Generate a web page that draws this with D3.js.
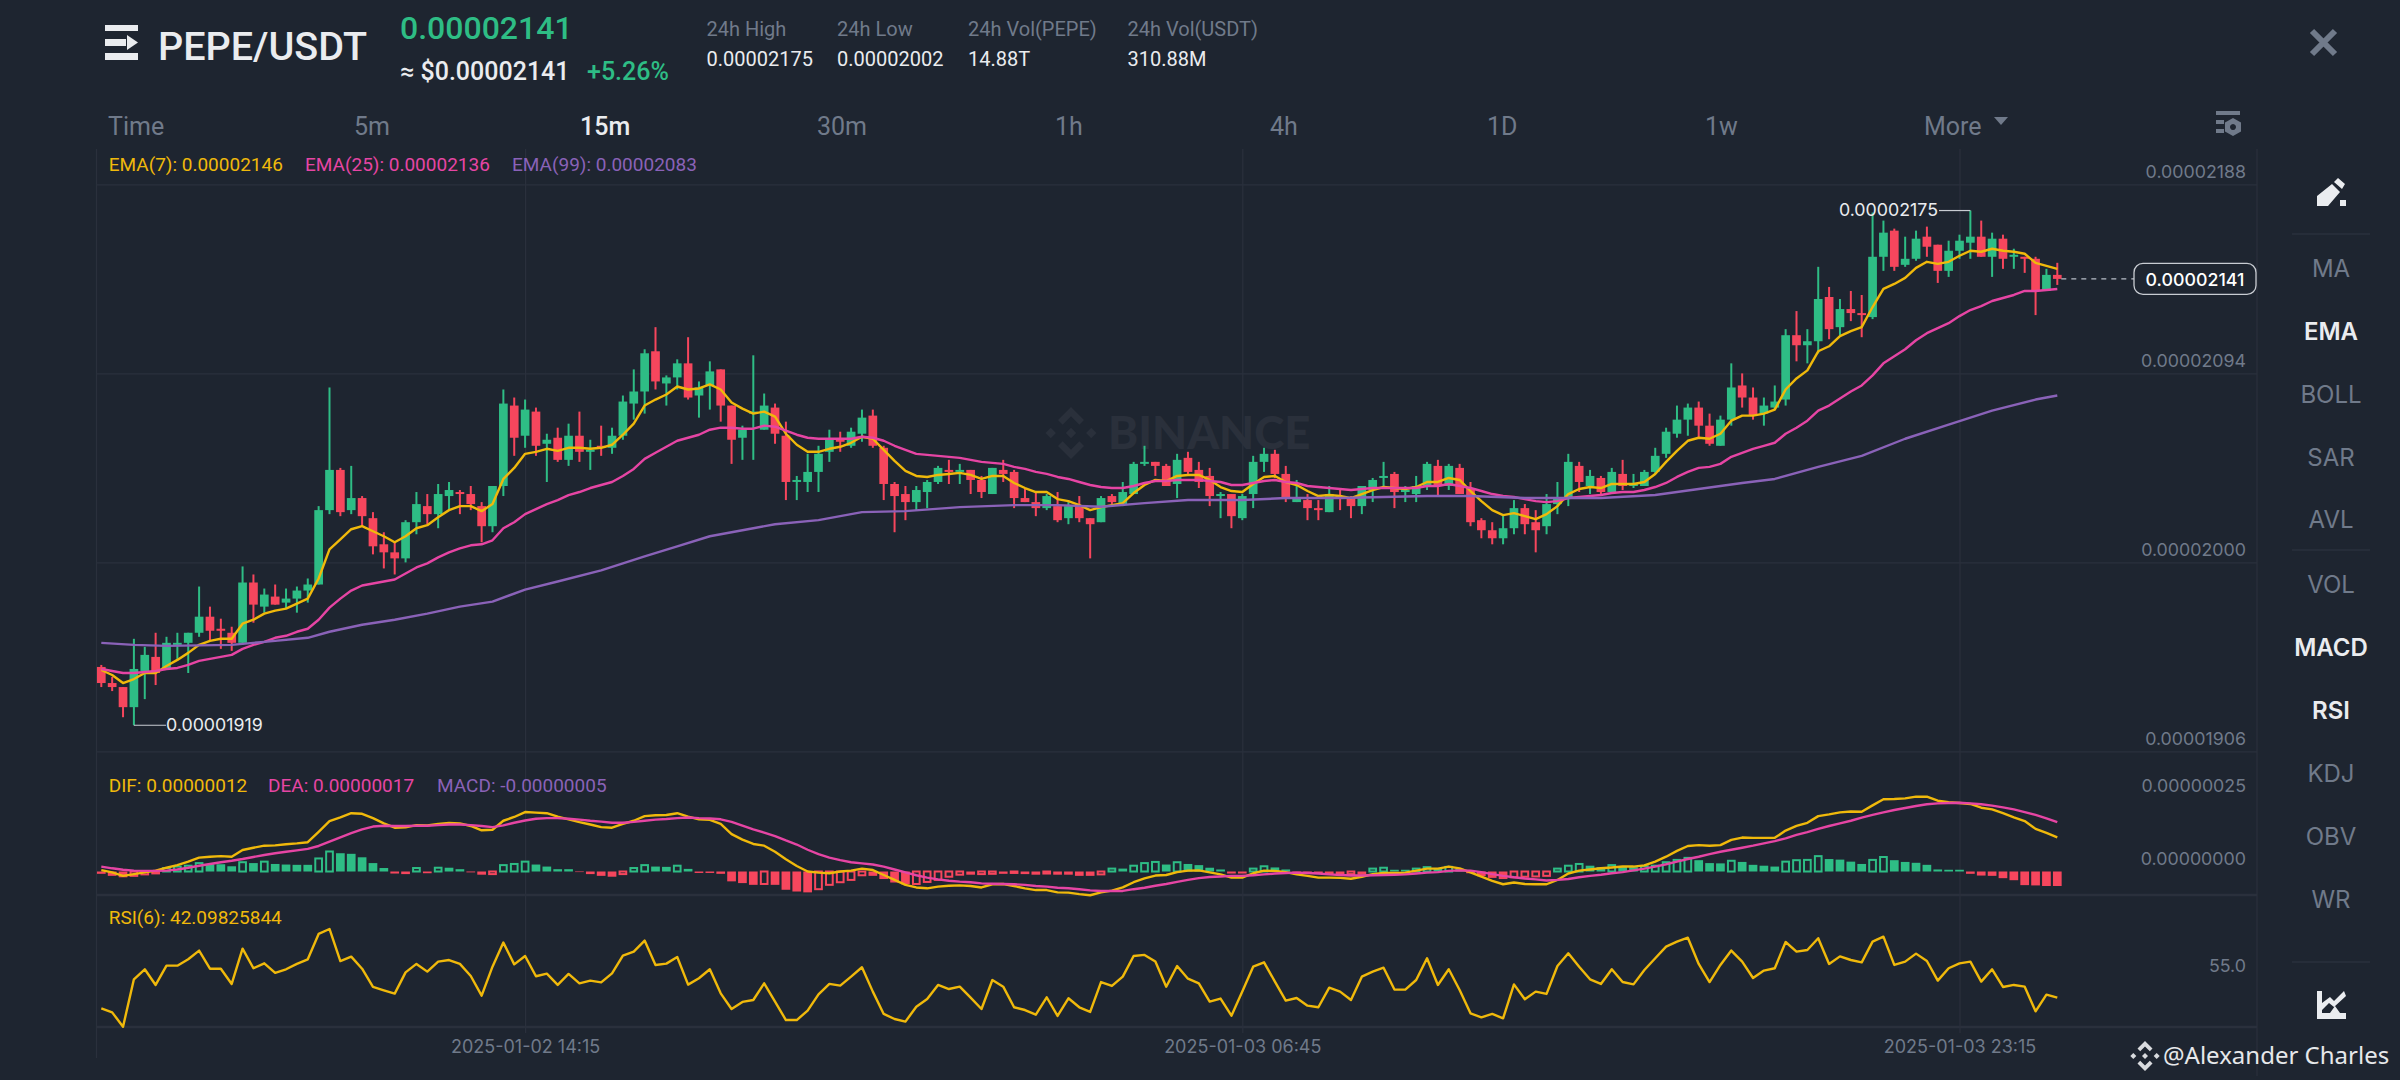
<!DOCTYPE html>
<html>
<head>
<meta charset="utf-8">
<script src="https://cdn.jsdelivr.net/npm/d3@7/dist/d3.min.js"></script>
<style>
    html, body { margin: 0; padding: 0; background: #1e2530; }
    svg { display: block; }
</style>
</head>
<body>
<script>
// All prices are in units of 0.00000001
const highs = [
    1949,1943,1938,1962,1958,1965,1963,1965,1965,1988,
    1978,1972,1968,1998,1994,1987,1989,1987,1988,1992,
    2028,2087,2047,2048,2033,2025,2015,2010,2021,2035,
    2034,2039,2040,2036,2038,2030,2038,2086,2082,2081,
    2077,2064,2067,2069,2075,2061,2068,2067,2083,2096,
    2106,2117,2093,2101,2112,2090,2100,2096,2078,2068,
    2103,2084,2079,2070,2043,2054,2058,2066,2065,2067,
    2076,2076,2058,2040,2038,2038,2041,2048,2051,2049,
    2046,2043,2047,2051,2046,2037,2035,2034,2035,2030,
    2033,2022,2033,2034,2040,2050,2058,2050,2049,2054,
    2055,2050,2047,2035,2034,2034,2053,2057,2056,2048,
    2041,2034,2031,2038,2036,2033,2038,2042,2050,2045,
    2038,2043,2050,2051,2049,2049,2040,2022,2020,2024,
    2031,2029,2026,2034,2040,2054,2050,2046,2043,2047,
    2051,2044,2046,2057,2067,2078,2079,2080,2074,2073,
    2099,2094,2087,2082,2088,2116,2125,2116,2147,2137,
    2131,2135,2133,2174,2170,2166,2162,2165,2167,2158,
    2160,2163,2175,2170,2164,2163,2156,2152,2152,2146,2149
];
const opens = [
    1948,1940,1938,1928,1946,1953,1947,1959,1960,1965,
    1973,1967,1965,1960,1990,1978,1983,1980,1982,1986,
    1989,2026,2046,2026,2032,2022,2009,2005,2002,2020,
    2028,2024,2033,2035,2034,2028,2018,2038,2078,2063,
    2075,2059,2062,2051,2063,2055,2058,2057,2063,2079,
    2085,2105,2089,2092,2099,2083,2088,2096,2078,2062,
    2074,2066,2077,2063,2040,2040,2045,2055,2061,2058,
    2064,2073,2057,2039,2034,2030,2035,2040,2046,2045,
    2046,2041,2034,2046,2045,2032,2030,2027,2028,2022,
    2028,2022,2020,2033,2029,2034,2049,2050,2048,2039,
    2052,2046,2043,2033,2034,2022,2034,2050,2054,2044,
    2030,2031,2027,2025,2033,2032,2028,2036,2042,2044,
    2035,2034,2038,2048,2038,2047,2037,2021,2016,2012,
    2017,2027,2020,2018,2029,2032,2048,2038,2042,2035,
    2044,2038,2038,2045,2054,2064,2071,2077,2068,2058,
    2071,2088,2082,2074,2077,2081,2113,2108,2110,2132,
    2117,2126,2124,2122,2152,2165,2148,2151,2162,2158,
    2145,2155,2159,2162,2152,2161,2152,2152,2151,2135,2143
];
const closes = [
    1940,1938,1928,1947,1954,1945,1960,1960,1965,1973,
    1966,1966,1960,1990,1979,1984,1979,1982,1986,1989,
    2026,2046,2025,2032,2023,2008,2005,2002,2020,2029,
    2024,2034,2036,2034,2029,2018,2038,2079,2062,2076,
    2058,2061,2051,2063,2055,2056,2057,2063,2080,2085,
    2104,2090,2092,2099,2082,2087,2095,2078,2061,2066,
    2075,2078,2064,2040,2041,2045,2054,2061,2060,2065,
    2072,2058,2039,2033,2030,2036,2040,2047,2045,2046,
    2041,2035,2047,2044,2032,2030,2027,2033,2021,2028,
    2022,2019,2032,2030,2035,2049,2050,2048,2038,2051,
    2045,2040,2033,2034,2023,2033,2050,2054,2044,2032,
    2032,2027,2026,2034,2032,2028,2038,2041,2043,2035,
    2036,2038,2049,2038,2048,2034,2020,2016,2012,2017,
    2027,2019,2016,2029,2032,2050,2040,2043,2035,2045,
    2038,2039,2045,2053,2065,2071,2077,2068,2059,2071,
    2087,2082,2073,2078,2080,2113,2108,2110,2131,2116,
    2126,2124,2123,2152,2164,2147,2151,2161,2157,2145,
    2155,2160,2162,2152,2161,2151,2153,2151,2135,2143,2141
];
const lows = [
    1938,1936,1923,1919,1932,1939,1947,1952,1945,1963,
    1961,1957,1956,1959,1970,1975,1979,1977,1975,1980,
    1989,2024,2023,2024,2018,2004,1997,1994,2000,2014,
    2019,2017,2026,2024,2026,2010,2015,2033,2053,2057,
    2053,2040,2050,2048,2050,2046,2053,2054,2061,2071,
    2074,2086,2078,2086,2081,2072,2076,2070,2049,2051,
    2051,2066,2059,2031,2031,2035,2035,2050,2055,2057,
    2060,2057,2031,2015,2021,2026,2027,2039,2039,2039,
    2034,2032,2034,2040,2027,2030,2023,2026,2020,2019,
    2020,2002,2020,2028,2028,2034,2048,2043,2038,2032,
    2044,2037,2028,2022,2017,2021,2027,2045,2042,2030,
    2030,2021,2021,2025,2026,2022,2024,2030,2037,2027,
    2030,2030,2036,2033,2036,2034,2018,2012,2009,2009,
    2014,2014,2005,2014,2024,2028,2035,2034,2034,2035,
    2036,2037,2038,2044,2052,2062,2063,2062,2058,2058,
    2068,2077,2071,2068,2076,2078,2100,2099,2104,2111,
    2113,2120,2112,2121,2145,2145,2147,2150,2152,2139,
    2142,2151,2151,2152,2142,2146,2146,2144,2123,2135,2138
];

const emaFast = [
    1946.5,1944,1940,1942,1945,1945,1948.5,1951.5,1955,1959,
    1961,1962,1962,1969.5,1971.5,1974.5,1976,1977,1979.5,1982,
    1992,2006.5,2011.5,2016.5,2018,2015.5,2013,2010,2013,2017,
    2018.5,2022.5,2026,2028,2028,2025.5,2029,2041.5,2047,2054,
    2055,2056.5,2055.5,2057,2057,2056.5,2057,2058.5,2063.5,2069,
    2078,2081,2083.5,2087.5,2086,2086.5,2088.5,2086,2079.5,2076.5,
    2074,2075,2072.5,2064,2058.5,2055,2055,2056.5,2057.5,2059.5,
    2062.5,2061.5,2056,2050.5,2045.5,2043,2042.5,2043.5,2044,2044.5,
    2043.5,2041.5,2043,2043,2039.5,2037,2035,2035,2031.5,2030.5,
    2028.5,2026,2027.5,2028.5,2029.5,2034.5,2038.5,2041,2040.5,2043,
    2043.5,2043.5,2041,2037.5,2035.5,2035,2039,2042.5,2043,2040,
    2038.5,2035.5,2033,2033.5,2033,2032,2034,2036,2037.5,2037,
    2036.5,2037.5,2040,2040,2042,2041,2035.5,2030.5,2026,2023.5,
    2024.5,2023,2021.5,2024,2028,2034,2036.5,2037.5,2037,2039,
    2039,2039,2040,2044,2050,2055.5,2060.5,2062,2061.5,2064,
    2070.5,2073,2073,2074,2076,2086,2091.5,2095.5,2105,2107.5,
    2112.5,2115,2117,2127,2136,2138.5,2141.5,2146.5,2149.5,2148.5,
    2149.5,2152.5,2155,2154.5,2156,2155,2154.5,2153.5,2149,2147.5,2146
];
const emaMid = [
    1947,1946,1945,1945,1945.5,1946,1947,1947.5,1949,1951,
    1952,1953,1954,1957,1959,1960.5,1962.5,1963.5,1965.5,1967,
    1971.5,1977.5,1982,1986,1988.5,1989.5,1990.5,1991.5,1994.5,1997.5,
    1999.5,2002.5,2005,2007,2008.5,2009,2011,2017,2020,2024,
    2026.5,2029,2031,2033.5,2035,2037,2038.5,2040,2043,2046.5,
    2051.5,2054.5,2057.5,2060.5,2062,2063.5,2066,2067,2067,2066.5,
    2066.5,2068,2067.5,2065.5,2063.5,2062,2061.5,2061.5,2061.5,2061.5,
    2062.5,2062,2060.5,2058,2056,2054,2053.5,2053,2052.5,2052,
    2051,2050,2049.5,2049,2047.5,2046.5,2045,2044,2042.5,2041.5,
    2040,2038.5,2037.5,2037,2037,2038,2039.5,2040.5,2040.5,2041,
    2041,2041,2040.5,2040,2038.5,2038.5,2039.5,2040.5,2041,2040,
    2039.5,2038,2037.5,2037,2036.5,2036,2036.5,2037,2037,2037,
    2037,2037,2038,2038,2039,2038,2037,2035.5,2034,2033,
    2032.5,2031.5,2030.5,2030,2030.5,2032,2032.5,2033,2033.5,2034.5,
    2035,2035,2036,2037.5,2039.5,2042.5,2045,2047,2047.5,2049,
    2052.5,2054.5,2056.5,2058,2059.5,2064,2067,2070.5,2075.5,2078,
    2081.5,2085,2088,2093,2099,2102.5,2106,2110.5,2114,2116.5,
    2119,2122.5,2125.5,2127.5,2130,2131.5,2133,2135,2135,2135.5,2136
];
// the slow line is smooth enough to read at a few candles only
const emaSlowIdx = [0,3,6,12,15,19,21,24,27,30,33,36,39,42,46,48,50,53,56,60,62,66,70,74,79,84,88,92,96,100,105,109,114,118,122,126,131,138,143,147,151,154,158,162,166,170,174,178,180];
const emaSlow = [1960,1959,1958.5,1959,1960.5,1962.5,1965.5,1969,1971.5,1974.5,1978,1980.5,1986.5,1990.5,1996,1999.5,2003,2008,2013,2017,2019,2021,2025,2025.5,2027.5,2028.5,2028.5,2027.7,2029.5,2031,2031,2032,2032,2032.5,2033,2033,2032,2032,2033.5,2036.5,2039.5,2041.5,2047.5,2053,2061.5,2068.5,2075.5,2081,2083];

const dif = [
    .5,-.3,-1.5,-.9,-.3,.3,1.3,2.2,3.4,4.8,
    5.1,5.3,5.1,7.4,8.2,8.9,9,9.4,9.7,10.1,
    13.7,17.4,18.7,20.1,19.9,18.4,16.6,15.1,15.2,16,
    15.9,16.4,16.7,16.6,15.7,14.2,14.4,17.5,18.8,20.5,
    20.3,20.1,18.9,18,17,16.2,15.3,15.1,16.4,17.5,
    19.1,19.4,19.5,20.1,18.9,18,17.8,16.4,12.9,11,
    9.5,8.9,6.8,4.2,1.9,0,-.4,-.6,0,.3,
    1,.5,-1.2,-2.9,-4.6,-5.5,-5.8,-5.2,-4.9,-4.8,
    -5,-5.5,-4.4,-4.3,-5,-5.8,-6.4,-6.4,-7.2,-7.3,
    -7.8,-8.2,-7.2,-6.6,-5.5,-3.7,-2.4,-1.4,-1.2,-.2,
    .3,.4,-.3,-1,-2.1,-2.1,-.6,.3,.2,-.2,
    -1,-1.5,-2.1,-2.1,-2.2,-2.5,-1.8,-.9,-.5,-.5,
    -.4,.3,1,1,1.7,1.1,-.3,-1.8,-3.2,-4.4,
    -3.8,-4.3,-4.4,-4.4,-2.9,-.7,.3,.7,1.1,1.4,
    1.7,1.7,2.1,3.4,5.1,7.1,8.8,9.1,8.9,9.1,
    10.9,11.7,11.6,11.6,11.6,14.1,15.7,16.8,19.1,19.7,
    20.4,20.7,20.6,22.8,24.9,25,25.2,25.8,25.8,24.4,
    23.9,23.6,23.3,22,21.4,20.1,18.7,17.4,14.7,13.3,11.8
];
const dea = [
    1.7,1.1,.6,.3,.2,.2,.3,.7,1.3,2,
    2.6,3.2,3.7,4.3,5,5.7,6.3,6.8,7.3,7.8,
    8.8,10.3,11.8,13.2,14.5,15.5,15.8,15.7,15.7,15.8,
    15.8,16,16.2,16.2,16,15.7,15.3,15.9,16.8,17.6,
    18.2,18.4,18.4,18.2,17.9,17.5,17.2,16.8,16.8,17.1,
    17.5,17.9,18.1,18.4,18.6,18.4,18.3,18,17.1,15.8,
    14.5,13.4,12.2,10.7,9.3,7.5,6,4.8,3.9,3.2,
    2.8,2.4,1.7,.7,-.3,-1.3,-2.1,-2.7,-3.2,-3.5,
    -3.7,-4.1,-4.2,-4.3,-4.4,-4.6,-5,-5.2,-5.6,-5.8,
    -6.1,-6.5,-6.7,-6.7,-6.7,-6.1,-5.6,-4.9,-4.3,-3.6,
    -2.9,-2.3,-1.9,-1.7,-1.5,-1.5,-1.3,-1,-.7,-.5,
    -.4,-.5,-.7,-1,-1.2,-1.4,-1.4,-1.3,-1.2,-1.1,
    -1,-.7,-.4,-.2,.2,.4,.3,-.2,-.9,-1.5,
    -2,-2.4,-2.7,-3.1,-2.9,-2.6,-2,-1.5,-1.1,-.6,
    -.2,.4,1,1.7,2.5,3.4,4.3,5.1,6,6.8,
    7.5,8.2,8.9,9.7,10.5,11.4,12.6,13.6,14.7,15.7,
    16.6,17.5,18.6,19.5,20.4,21.2,21.9,22.6,23.2,23.5,
    23.6,23.7,23.5,23.2,22.7,22.1,21.4,20.5,19.5,18.3,17
];
const macdHist = [
    -.8,-1.5,-2,-1.5,-1,-1,1.2,1.7,2,2.9,
    2.5,2.5,1.8,3.2,2.9,3.4,2.6,2.4,2.3,2.3,
    4.5,6.9,6.3,6.1,4.9,2.9,1.2,-.7,-.9,1.2,
    -.6,1.3,1.3,.8,-.3,-1.1,-.9,2.2,2.6,3.4,
    2.4,1.7,.8,.8,-.2,-.9,-1.5,-1.8,-.9,1.2,
    2.2,1.7,1.6,2,.9,-.5,-.5,-.8,-3.4,-4,
    -4.6,-4.3,-4.6,-6.3,-6.9,-7.2,-6.1,-4.6,-3.7,-2.9,
    -1.3,-1.5,-2.6,-3.8,-4.4,-4.3,-3.6,-2.9,-1.8,-1.1,
    -1.1,-.9,-.8,-.8,-.5,-.9,-1.1,-.7,-1.1,-1.1,
    -1.5,-1.5,-1,1,1,2,2.9,3.3,2.4,3.2,
    2.6,2.2,1.3,.7,-.7,-.7,1,1.8,1.4,.7,
    -.5,-.7,-.8,-1,-1.1,-.9,-1.1,1,1.3,.6,
    .6,1,1.5,1,1.6,.9,-.6,-1.6,-2.2,-2.6,
    -2,-1.8,-1.7,-1.5,1,2,2.6,2,1.5,2.2,
    1.6,1.5,1.8,2,3.2,4,4.7,3.9,2.9,2.8,
    3.7,3.3,2.3,2,1.7,3.4,3.9,4,5.3,4.3,
    4.1,3.4,2.6,4,5,3.9,3.3,3,2.3,.7,
    .6,.6,-.8,-1.4,-1.5,-2.3,-3,-4.7,-4.8,-5,-5
];
const rsi = [
    34.8,32,22.1,54.8,61.7,50.9,64.2,64.2,68.6,74.6,
    62.1,62.1,51.6,75.9,62.4,65.8,59.2,61.7,65.4,68.6,
    86.1,89.5,67.4,70.4,62.1,49.5,47.2,44.9,59.6,65.4,
    60.1,67,68.1,65.4,57.1,43.5,63.5,80.1,65.1,70.9,
    56.9,58.7,50.9,58.5,52,53.9,52.7,58.9,71.1,73.9,
    81.5,64.7,65.6,70.2,51.1,55.5,61.7,45.1,34.3,39.2,
    40.5,52,39.4,26.7,26.7,33.2,44.4,51.6,50.4,56.6,
    63.1,46.3,30.9,27.4,25.6,35.9,41.2,50.9,48.1,49.7,
    42.1,34.3,54.3,49.7,35.5,33.6,30.4,42.4,29.5,41.7,
    35.5,32.3,52.9,50.2,56.6,70.9,71.6,67,49.7,64,
    55.2,52,39.4,41.5,29.7,46.3,63.5,66.5,53.2,40.1,
    41.9,36.6,35.5,49,46.3,40.5,56.6,60.1,62.8,47.7,
    47.7,54.3,69.3,50.9,61.7,47.4,31.3,28.6,30.9,27.9,
    51.3,41,46.3,44.7,64,72.7,63.5,54.8,51.6,61.7,
    52.9,51.3,61.2,69.3,77.3,80.8,83.5,65.4,52.9,64.7,
    74.6,67,55.7,60.8,62.4,80.5,73.9,75,83.1,65.4,
    70.6,68.1,66.5,80.8,84.2,64.7,67,72.5,67.4,53.9,
    62.4,65.8,67,53.2,61.7,49.5,50.9,49.7,32.7,44.2,42.1
];

const priceTicks = [1906, 2000, 2094, 2188];
const macdTicks = [0, 25];
const rsiTicks = [55];
const timeTickIdx = [39, 105, 171];
const timeTickLabels = ['2025-01-02 14:15', '2025-01-03 06:45', '2025-01-03 23:15'];

const lastPrice = 2141;
const maxPoint = { idx: 172, price: 2175 };
const minPoint = { idx: 3, price: 1919 };

const intervals = ['Time', '5m', '15m', '30m', '1h', '4h', '1D', '1w', 'More'];
const intervalLeft = [108, 354, 580, 817, 1055, 1270, 1487, 1705, 1924];
const sideItems = ['MA', 'EMA', 'BOLL', 'SAR', 'AVL', 'VOL', 'MACD', 'RSI', 'KDJ', 'OBV', 'WR'];
const sideItemY = [268.6, 332, 394.6, 458, 520, 585, 648, 710.5, 773.5, 837, 900];
const sideActive = ['EMA', 'MACD', 'RSI'];
const statLabels = ['24h High', '24h Low', '24h Vol(PEPE)', '24h Vol(USDT)'];
const statValues = ['0.00002175', '0.00002002', '14.88T', '310.88M'];
const statLeft = [706.5, 837, 968, 1127.5];

const COLOR_BG = '#1e2530';
const COLOR_GRID = '#2a303c';
const COLOR_TEXT_DIM = '#707a8a';
const COLOR_TEXT = '#eaecef';
const COLOR_UP = '#2ebd85';
const COLOR_DOWN = '#f6465d';
const COLOR_LINE1 = '#f0b90b';
const COLOR_LINE2 = '#e645a4';
const COLOR_LINE3 = '#8a62b8';

const FONT_UI = 'Roboto';
const FONT_NUM = 'Inter';

const CHART_LEFT = 96.5;
const CHART_RIGHT = 2257;
const CANDLE_WIDTH = 8.7;
const WICK_WIDTH = 2;
const LINE_WIDTH = 2.4;

const svg = d3.select('body').append('svg')
    .attr('width', 2400)
    .attr('height', 1080)
    .attr('viewBox', '0 0 2400 1080');

svg.append('rect').attr('width', 2400).attr('height', 1080).attr('fill', COLOR_BG);

const x = d3.scaleLinear().domain([0, 180]).range([101.3, 2057.3]);
const yPrice = d3.scaleLinear().domain([1906, 2188]).range([751.4, 184.4]);
const yMacd = d3.scaleLinear().domain([0, 25]).range([871.5, 799]);
const yRsi = d3.scaleLinear().domain([0, 100]).range([1058.75, 913.75]);

const priceFormat = v => (v * 1e-8).toFixed(8);

function label(parent, px, py, str, size, fill, opts = {}) {
    return parent.append('text')
        .attr('x', px)
        .attr('y', py)
        .attr('dy', '0.35em')
        .attr('font-family', opts.font || FONT_UI)
        .attr('font-size', size)
        .attr('font-weight', opts.weight || 400)
        .attr('text-anchor', opts.anchor || 'start')
        .attr('fill', fill)
        .text(str);
}

function drawHeader() {
    const head = svg.append('g');

    // menu icon
    const icon = head.append('g').attr('fill', COLOR_TEXT);
    icon.append('rect').attr('x', 105).attr('y', 25).attr('width', 33).attr('height', 6);
    icon.append('rect').attr('x', 105).attr('y', 39).attr('width', 21).attr('height', 7);
    icon.append('path').attr('d', 'M127 35 L138 42.5 L127 50 Z');
    icon.append('rect').attr('x', 105).attr('y', 53).attr('width', 33).attr('height', 7);

    label(head, 158, 46, 'PEPE/USDT', 39.5, COLOR_TEXT, { weight: 500 });
    label(head, 400, 28, '0.00002141', 32, COLOR_UP, { weight: 500 });
    label(head, 400, 71, '≈ $0.00002141', 25, COLOR_TEXT, { weight: 500 });
    label(head, 587, 71, '+5.26%', 25, COLOR_UP, { weight: 500 });

    statLabels.forEach((s, i) => {
        label(head, statLeft[i], 29, s, 20, COLOR_TEXT_DIM);
        label(head, statLeft[i], 59, statValues[i], 20, COLOR_TEXT);
    });

    intervals.forEach((s, i) => {
        const active = s === '15m';
        label(head, intervalLeft[i], 126, s, 25, active ? COLOR_TEXT : COLOR_TEXT_DIM, { weight: active ? 500 : 400 });
    });
    head.append('path').attr('d', 'M1994 117 L2008 117 L2001 125 Z').attr('fill', COLOR_TEXT_DIM);

    // settings icon
    const gear = head.append('g').attr('fill', COLOR_TEXT_DIM);
    gear.append('rect').attr('x', 2216).attr('y', 111).attr('width', 24).attr('height', 4);
    gear.append('rect').attr('x', 2216).attr('y', 120).attr('width', 8).attr('height', 4);
    gear.append('rect').attr('x', 2216).attr('y', 129).attr('width', 8).attr('height', 4);
    gear.append('path')
        .attr('fill-rule', 'evenodd')
        .attr('d', 'M2233 118 L2241 122.5 L2241 131.5 L2233 136 L2225 131.5 L2225 122.5 Z M2233 124 a3 3 0 1 0 0.01 0 Z');

    // close icon
    head.append('path')
        .attr('d', 'M2312 31 L2335 54 M2335 31 L2312 54')
        .attr('stroke', COLOR_TEXT_DIM)
        .attr('stroke-width', 6);
}

function drawSideBar() {
    const side = svg.append('g');
    sideItems.forEach((s, i) => {
        const active = sideActive.includes(s);
        label(side, 2331, sideItemY[i], s, 24, active ? COLOR_TEXT : COLOR_TEXT_DIM, {
            font: FONT_NUM, anchor: 'middle', weight: active ? 600 : 400
        });
    });
    [234, 550, 962].forEach(py => {
        side.append('line')
            .attr('x1', 2292).attr('x2', 2370)
            .attr('y1', py).attr('y2', py)
            .attr('stroke', COLOR_GRID).attr('stroke-width', 1.5);
    });

    // draw pen
    side.append('path').attr('fill', COLOR_TEXT)
        .attr('d', 'M2317 206 L2317 196 L2332 184 L2340 192 L2328 206 Z M2334 182 L2338 178 L2345 184 L2342 189 Z M2340 200 h6 v6 h-6 Z');
    // indicator icon
    side.append('path').attr('fill', COLOR_TEXT)
        .attr('d', 'M2317 991 h5 v22 h24 v6 h-29 Z M2322 1003 L2330 997 L2334 1001 L2344 991 L2346 996 L2334 1007 L2329 1003 L2322 1010 Z M2335 1006 L2340 1013 L2330 1013 Z');
}

function diamondLogo(parent, cx, cy, r, fill) {
    const g = parent.append('g').attr('fill', fill);
    const d = r * 0.2;
    const diamond = (dx, dy, s) => `M${cx + dx} ${cy + dy - s} L${cx + dx + s} ${cy + dy} L${cx + dx} ${cy + dy + s} L${cx + dx - s} ${cy + dy} Z`;
    g.append('path').attr('d', diamond(0, 0, d));
    g.append('path').attr('d', diamond(-r * 0.78, 0, d));
    g.append('path').attr('d', diamond(r * 0.78, 0, d));
    const w = r * 0.18;
    g.append('path').attr('d',
        `M${cx} ${cy - r} L${cx + r * 0.5} ${cy - r * 0.5} L${cx + r * 0.5 - w} ${cy - r * 0.5 + w} L${cx} ${cy - r + 2 * w} L${cx - r * 0.5 + w} ${cy - r * 0.5 + w} L${cx - r * 0.5} ${cy - r * 0.5} Z`);
    g.append('path').attr('d',
        `M${cx} ${cy + r} L${cx + r * 0.5} ${cy + r * 0.5} L${cx + r * 0.5 - w} ${cy + r * 0.5 - w} L${cx} ${cy + r - 2 * w} L${cx - r * 0.5 + w} ${cy + r * 0.5 - w} L${cx - r * 0.5} ${cy + r * 0.5} Z`);
}

function drawGrid() {
    const grid = svg.append('g');

    // frame
    [CHART_LEFT, CHART_RIGHT].forEach(px => {
        grid.append('line')
            .attr('x1', px).attr('x2', px)
            .attr('y1', 149).attr('y2', px === CHART_LEFT ? 1058 : 1076)
            .attr('stroke', COLOR_GRID).attr('stroke-width', 1.2);
    });
    [895, 1027].forEach(py => {
        grid.append('line')
            .attr('x1', CHART_LEFT).attr('x2', CHART_RIGHT)
            .attr('y1', py).attr('y2', py)
            .attr('stroke', COLOR_GRID).attr('stroke-width', 2.4);
    });

    // price axis
    const priceAxis = grid.append('g')
        .attr('transform', `translate(${CHART_RIGHT},0)`)
        .call(d3.axisLeft(yPrice).tickValues(priceTicks).tickFormat(priceFormat).tickSize(CHART_RIGHT - CHART_LEFT));
    styleYAxis(priceAxis);

    // macd axis
    const macdAxis = grid.append('g')
        .attr('transform', `translate(${CHART_RIGHT},0)`)
        .call(d3.axisLeft(yMacd).tickValues(macdTicks).tickFormat(priceFormat).tickSize(0));
    styleYAxis(macdAxis);

    // rsi axis
    const rsiAxis = grid.append('g')
        .attr('transform', `translate(${CHART_RIGHT},0)`)
        .call(d3.axisLeft(yRsi).tickValues(rsiTicks).tickFormat(d3.format('.1f')).tickSize(0));
    styleYAxis(rsiAxis);

    // time axis with vertical grid
    const timeAxis = grid.append('g')
        .attr('transform', 'translate(0,1033)')
        .call(d3.axisBottom(x)
            .tickValues(timeTickIdx)
            .tickFormat(i => timeTickLabels[timeTickIdx.indexOf(i)])
            .tickSize(-884));
    timeAxis.select('.domain').remove();
    timeAxis.attr('font-family', FONT_NUM).attr('font-size', 18);
    timeAxis.selectAll('line').attr('stroke', COLOR_GRID).attr('stroke-width', 1.2);
    timeAxis.selectAll('text').attr('fill', COLOR_TEXT_DIM).attr('y', 14).attr('dy', '0.35em');

    // watermark
    diamondLogo(grid, 1071, 433, 26, '#2a303b');
    label(grid, 1108, 433, 'BINANCE', 45.5, '#2a303b', { font: 'Lato', weight: 900 });
}

function styleYAxis(axis) {
    axis.select('.domain').remove();
    axis.attr('font-family', FONT_NUM).attr('font-size', 17.8);
    axis.selectAll('line').attr('stroke', COLOR_GRID).attr('stroke-width', 1.4);
    axis.selectAll('text')
        .attr('x', -11)
        .attr('y', -13)
        .attr('fill', COLOR_TEXT_DIM);
}

function drawLegends() {
    const g = svg.append('g');
    label(g, 108.7, 164, 'EMA(7): 0.00002146', 19, COLOR_LINE1);
    label(g, 305, 164, 'EMA(25): 0.00002136', 19, COLOR_LINE2);
    label(g, 512, 164, 'EMA(99): 0.00002083', 19, COLOR_LINE3);
    label(g, 108.7, 785, 'DIF: 0.00000012', 19, COLOR_LINE1);
    label(g, 268, 785, 'DEA: 0.00000017', 19, COLOR_LINE2);
    label(g, 437, 785, 'MACD: -0.00000005', 19, COLOR_LINE3);
    label(g, 108.7, 917, 'RSI(6): 42.09825844', 19, COLOR_LINE1);
}

function drawCandles() {
    const g = svg.append('g');
    const candles = d3.range(closes.length);
    const colorOf = i => closes[i] >= opens[i] ? COLOR_UP : COLOR_DOWN;

    g.selectAll('line.wick').data(candles).join('line')
        .attr('class', 'wick')
        .attr('x1', i => x(i)).attr('x2', i => x(i))
        .attr('y1', i => yPrice(highs[i])).attr('y2', i => yPrice(lows[i]))
        .attr('stroke', colorOf)
        .attr('stroke-width', WICK_WIDTH);

    g.selectAll('rect.body').data(candles).join('rect')
        .attr('class', 'body')
        .attr('x', i => x(i) - CANDLE_WIDTH / 2)
        .attr('width', CANDLE_WIDTH)
        .attr('y', i => yPrice(Math.max(opens[i], closes[i])))
        .attr('height', i => Math.max(2, Math.abs(yPrice(opens[i]) - yPrice(closes[i]))))
        .attr('fill', colorOf);
}

function drawLine(values, yScale, color, width, idx) {
    const line = d3.line()
        .x((d, i) => x(idx ? idx[i] : i))
        .y(d => yScale(d));
    svg.append('path')
        .attr('d', line(values))
        .attr('fill', 'none')
        .attr('stroke', color)
        .attr('stroke-width', width)
        .attr('stroke-linejoin', 'round');
}

function drawMacdBars() {
    const g = svg.append('g');
    const bars = d3.range(macdHist.length);
    const colorOf = i => macdHist[i] >= 0 ? COLOR_UP : COLOR_DOWN;
    // bars that rose against the previous one are hollow
    const hollow = i => i > 0 && macdHist[i] > macdHist[i - 1];
    const strokeW = 2;

    g.selectAll('rect').data(bars).join('rect')
        .attr('x', i => x(i) - CANDLE_WIDTH / 2 + (hollow(i) ? strokeW / 2 : 0))
        .attr('width', i => CANDLE_WIDTH - (hollow(i) ? strokeW : 0))
        .attr('y', i => yMacd(Math.max(macdHist[i], 0)))
        .attr('height', i => Math.abs(yMacd(macdHist[i]) - yMacd(0)))
        .attr('fill', i => hollow(i) ? COLOR_BG : colorOf(i))
        .attr('stroke', i => hollow(i) ? colorOf(i) : 'none')
        .attr('stroke-width', strokeW);
}

function drawAnnotations() {
    const g = svg.append('g');
    const lineColor = '#c8ccd2';

    // highest price
    const maxX = x(maxPoint.idx);
    const maxY = yPrice(maxPoint.price);
    g.append('path')
        .attr('d', `M${maxX} ${maxY} H1939`)
        .attr('fill', 'none')
        .attr('stroke', lineColor)
        .attr('stroke-width', 1.2);
    label(g, 1938, maxY - 1, priceFormat(maxPoint.price), 17.8, COLOR_TEXT, { font: FONT_NUM, anchor: 'end' });

    // lowest price
    const minX = x(minPoint.idx);
    const minY = yPrice(minPoint.price);
    g.append('path')
        .attr('d', `M${minX} ${minY} H166`)
        .attr('fill', 'none')
        .attr('stroke', lineColor)
        .attr('stroke-width', 1.2);
    label(g, 166, minY, priceFormat(minPoint.price), 17.8, COLOR_TEXT, { font: FONT_NUM });

    // current price
    const lastY = yPrice(lastPrice);
    g.append('line')
        .attr('x1', x(180) + 4).attr('x2', 2134)
        .attr('y1', lastY).attr('y2', lastY)
        .attr('stroke', '#b7bdc6')
        .attr('stroke-width', 1.3)
        .attr('stroke-dasharray', '5 5');
    g.append('rect')
        .attr('x', 2134).attr('y', lastY - 15.5)
        .attr('width', 122).attr('height', 31)
        .attr('rx', 9)
        .attr('fill', COLOR_BG)
        .attr('stroke', '#c8ccd2')
        .attr('stroke-width', 1.3);
    label(g, 2195, lastY + 1, priceFormat(lastPrice), 17.8, '#ffffff', { font: FONT_NUM, anchor: 'middle', weight: 500 });
}

function drawCredit() {
    diamondLogo(svg.append('g'), 2145, 1056, 15, '#d9dbde');
    label(svg, 2163, 1056, '@Alexander Charles', 24, '#e6e8ea', { font: 'Noto Sans' });
}

[highs, opens, closes, lows, emaFast, emaMid, dif, dea, macdHist, rsi].forEach((arr, i) => {
    if (arr.length !== 181) console.error('series', i, 'has', arr.length);
});

drawHeader();
drawSideBar();
drawGrid();
drawLegends();
drawCandles();
drawLine(emaFast, yPrice, COLOR_LINE1, LINE_WIDTH);
drawLine(emaMid, yPrice, COLOR_LINE2, LINE_WIDTH);
drawLine(emaSlow, yPrice, COLOR_LINE3, LINE_WIDTH, emaSlowIdx);
drawMacdBars();
drawLine(dif, yMacd, COLOR_LINE1, LINE_WIDTH);
drawLine(dea, yMacd, COLOR_LINE2, LINE_WIDTH);
drawLine(rsi, yRsi, COLOR_LINE1, LINE_WIDTH);
drawAnnotations();
drawCredit();
</script>
</body>
</html>
